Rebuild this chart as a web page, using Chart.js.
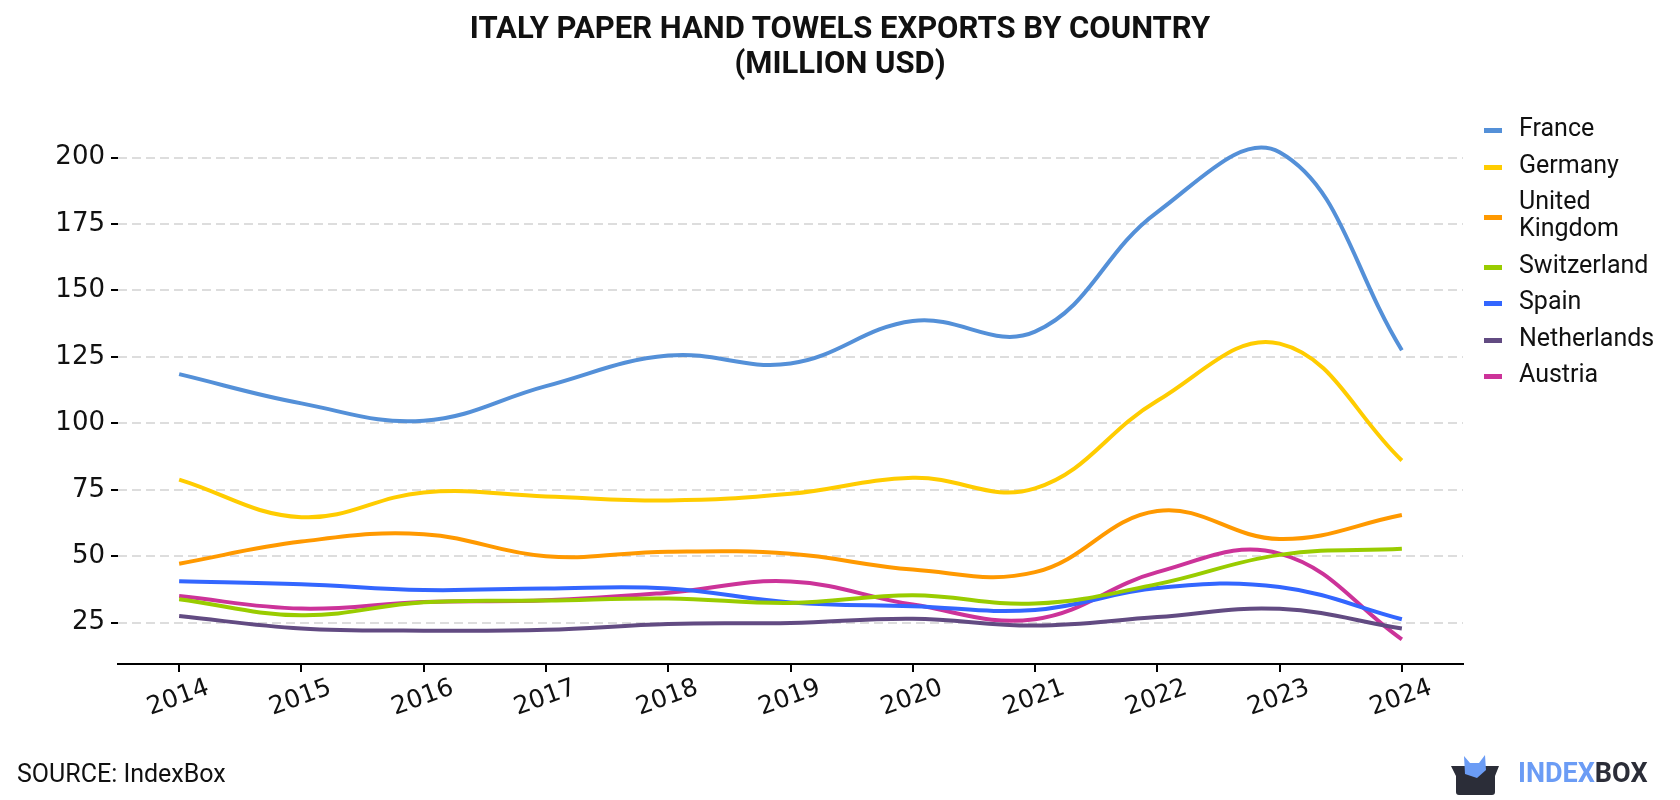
<!DOCTYPE html>
<html>
<head>
<meta charset="utf-8">
<script src="https://cdn.jsdelivr.net/npm/chart.js@4.4.0/dist/chart.umd.min.js"></script>
<style>
  body { margin: 0; background: #fff; }
  #wrap { position: relative; width: 1680px; height: 800px; font-family: Roboto, sans-serif; }
  #myChart { position: absolute; left: 0; top: 0; }
  .title { position: absolute; left: 0; width: 1680px; text-align: center; top: 10px; font-weight: bold; font-size: 31px; line-height: 35px; color: #111; }
  .legend { position: absolute; left: 1484px; top: 112px; }
  .item { position: relative; height: 36.6px; }
  .item.two { height: 63.5px; }
  .sw { position: absolute; left: 0; width: 18px; height: 5px; top: 16px; }
  .item.two .sw { top: 30px; }
  .lab { position: absolute; left: 35px; top: 2px; font-size: 25px; line-height: 27px; color: #111; white-space: nowrap; }
  .source { position: absolute; left: 17px; top: 759px; font-size: 25px; color: #111; }
  .logo { position: absolute; left: 1449px; top: 752px; height: 44px; }
  .logo .txt { position: absolute; left: 69px; top: 5px; font-size: 27px; font-weight: bold; }
</style>
</head>
<body>
<div id="wrap">
  <canvas id="myChart" width="1680" height="800"></canvas>
  <div class="title">ITALY PAPER HAND TOWELS EXPORTS BY COUNTRY<br>(MILLION USD)</div>
  <div class="legend" id="legend"></div>
  <div class="source">SOURCE: IndexBox</div>
  <div class="logo">
    <svg width="52" height="44" viewBox="0 0 52 44">
      <path d="M2 14 L50 14 L46 24 L46 40 Q46 43 43 43 L10 43 Q7 43 7 40 L7 24 Z" fill="#2b2d38"/>
      <path d="M15 4 L21 11 L30 11 L36 3 L37 18 L28 26 L16 22 Z" fill="#6b9cf5"/>
    </svg>
    <div class="txt"><span style="color:#6b9cf5">INDEX</span><span style="color:#2b2d38">BOX</span></div>
  </div>
</div>
<script>
const years = ['2014', '2015', '2016', '2017', '2018', '2019', '2020', '2021', '2022', '2023', '2024'];

const france      = [118.5, 107.5, 101, 114, 125.5, 122.5, 138.5, 134.5, 179.5, 202, 127.5];
const germany     = [78.8, 64.7, 74, 72.5, 71, 73.5, 79.5, 75.5, 108.5, 130, 86];
const uk          = [47.2, 55.5, 58.3, 50, 51.7, 50.9, 45, 44, 67, 56.5, 65.5];
const switzerland = [33.8, 27.8, 32.7, 33.3, 34.1, 32.4, 35.3, 32.2, 39.5, 50.5, 52.8];
const spain       = [40.6, 39.5, 37.3, 37.9, 37.9, 32.6, 31.2, 29.8, 38, 38.4, 26.3];
const netherlands = [27.5, 22.8, 22, 22.3, 24.5, 24.9, 26.5, 23.9, 27.1, 30.2, 22.8];
const austria     = [35, 30.3, 32.8, 33.4, 36.3, 40.5, 31.8, 26.3, 44, 51, 18.7];

const yTicks = [25, 50, 75, 100, 125, 150, 175, 200];

const series = [
    { label: 'France', data: france, color: '#5490d8' },
    { label: 'Germany', data: germany, color: '#ffcc00' },
    { label: 'United Kingdom', data: uk, color: '#ff9900' },
    { label: 'Switzerland', data: switzerland, color: '#99cc00' },
    { label: 'Spain', data: spain, color: '#3366ff' },
    { label: 'Netherlands', data: netherlands, color: '#624b82' },
    { label: 'Austria', data: austria, color: '#cc3399' },
];

// html legend (UK wraps onto two lines)
const legend = document.getElementById('legend');
series.forEach(s => {
    const item = document.createElement('div');
    const two = s.label === 'United Kingdom';
    item.className = two ? 'item two' : 'item';
    item.innerHTML = '<div class="sw" style="background:' + s.color + '"></div>' +
        '<div class="lab">' + (two ? 'United<br>Kingdom' : s.label) + '</div>';
    legend.appendChild(item);
});

const ctx = document.getElementById('myChart');
new Chart(ctx, {
    type: 'line',
    data: {
        labels: years,
        datasets: series.map(s => ({
            label: s.label,
            data: s.data,
            borderColor: s.color,
            backgroundColor: s.color,
            borderWidth: 4,
            pointRadius: 0,
            tension: 0.4,
            fill: false
        }))
    },
    options: {
        responsive: false,
        animation: false,
        layout: {
            padding: { left: 0, right: 217, top: 115, bottom: 46 }
        },
        plugins: {
            legend: { display: false },
            title: { display: false },
            tooltip: { enabled: false }
        },
        scales: {
            x: {
                offset: true,
                afterFit: function (scale) { scale.height = 90; },
                border: { display: true, color: '#000', width: 2 },
                grid: { drawOnChartArea: false, drawTicks: true, tickLength: 8, tickColor: '#000', lineWidth: 2, offset: false },
                ticks: {
                    color: '#111',
                    font: { family: 'DejaVu Sans', size: 25 },
                    minRotation: 20,
                    maxRotation: 20,
                    labelOffset: 29,
                    padding: 1
                }
            },
            y: {
                min: 9.45,
                max: 216,
                afterFit: function (scale) { scale.width = 118; },
                afterBuildTicks: function (scale) { scale.ticks = yTicks.map(v => ({ value: v })); },
                border: { display: false, dash: [9, 5] },
                grid: { color: '#dddddd', lineWidth: 2, tickLength: 7, tickColor: '#000', tickWidth: 2, tickBorderDash: [] },
                ticks: {
                    color: '#111',
                    font: { family: 'DejaVu Sans', size: 26 },
                    padding: 6
                }
            }
        }
    }
});
</script>
</body>
</html>
